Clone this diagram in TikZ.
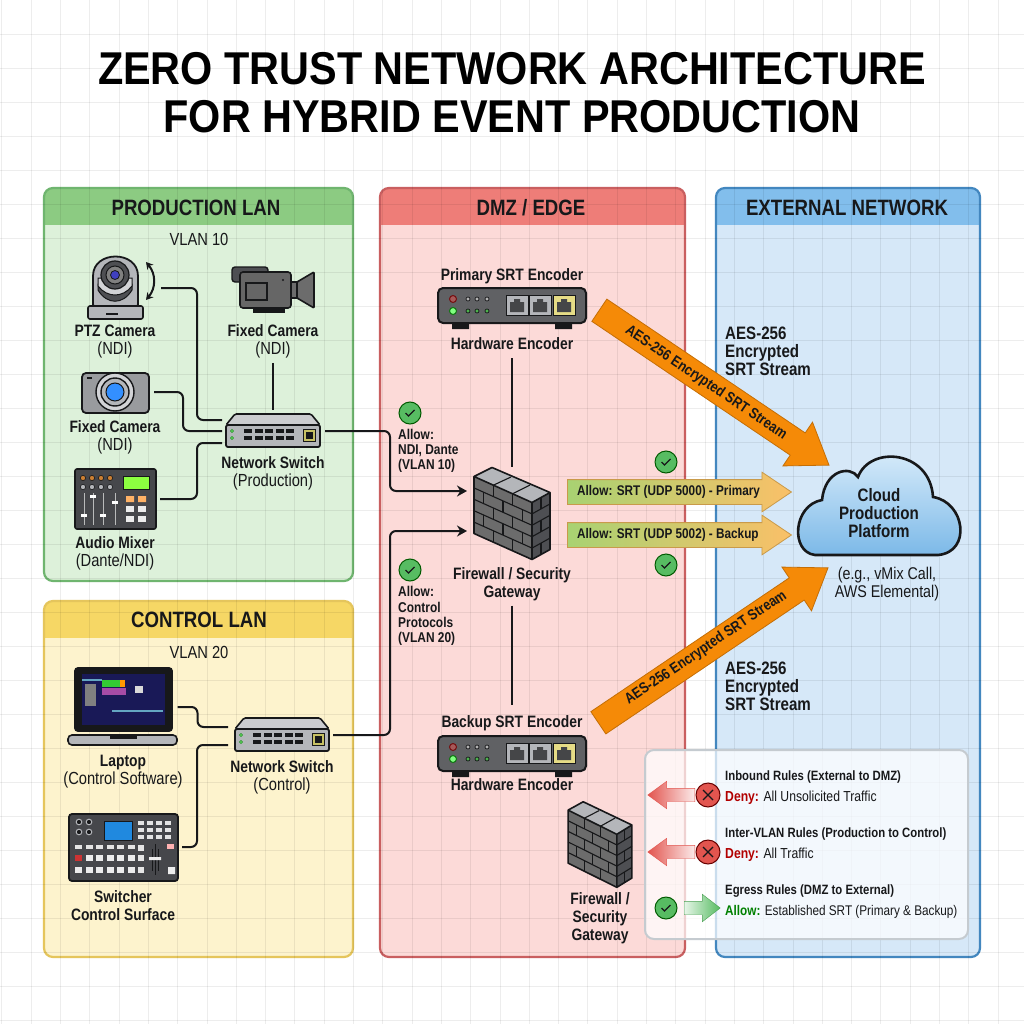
\documentclass[tikz,border=0pt]{standalone}
\usepackage{fontspec}
\setmainfont{Liberation Sans}[FakeStretch=0.84]
\newfontfamily\titlefont{Liberation Sans}[FakeStretch=0.9]
\usetikzlibrary{arrows.meta,shapes.arrows}
\definecolor{prodhead}{HTML}{8CCB82}
\definecolor{prodbody}{HTML}{DDF1DA}
\definecolor{prodedge}{HTML}{6FB56F}
\definecolor{ctrlhead}{HTML}{F6D765}
\definecolor{ctrlbody}{HTML}{FDF3CD}
\definecolor{ctrledge}{HTML}{E5C55C}
\definecolor{dmzhead}{HTML}{EE7D78}
\definecolor{dmzbody}{HTML}{FCDAD8}
\definecolor{dmzedge}{HTML}{C95F60}
\definecolor{exthead}{HTML}{82BEEC}
\definecolor{extbody}{HTML}{D6E8F8}
\definecolor{extedge}{HTML}{4387BF}
\definecolor{ink}{HTML}{17181A}
\definecolor{metal}{HTML}{B4B6BA}
\definecolor{metaldk}{HTML}{4E4F53}
\definecolor{orangearrow}{HTML}{F58A07}
\definecolor{denyred}{HTML}{E2554F}
\definecolor{okgreen}{HTML}{57BC62}
\definecolor{srtleft}{HTML}{A8D272}
\definecolor{srtright}{HTML}{FAC068}
\definecolor{srtedge}{HTML}{C99A4A}
\definecolor{cloudtop}{HTML}{DCEEFB}
\definecolor{cloudbot}{HTML}{7CB9E8}
\definecolor{legendedge}{HTML}{C5CBD0}
\definecolor{portyellow}{HTML}{E6DC86}
\newcommand\devsub[1]{{\fontsize{17.5}{18}\selectfont #1}}
\newcommand\ruletitle[1]{{\fontsize{13.5}{21}\selectfont\bfseries #1}}
\tikzset{
  wire/.style={line width=2pt,draw=ink,rounded corners=6pt},
  heading/.style={font=\fontsize{22.2}{24}\selectfont\bfseries,text=ink},
  devlabel/.style={align=center,font=\fontsize{16.5}{18}\selectfont,text=ink,inner sep=2pt},
  ruletext/.style={align=left,anchor=west,font=\fontsize{14.5}{21}\selectfont,text=ink,inner sep=0pt},
  devbox/.style={inner sep=0pt,outer sep=0pt},
  bigarrow/.style={single arrow,draw=orangearrow!80!black,fill=orangearrow,line width=.8pt,
    minimum height=277pt,minimum width=52pt,text height=26pt,text depth=0pt,single arrow head extend=13pt,
    single arrow tip angle=70,inner sep=0pt,anchor=tail},
  srtarrow/.style={single arrow,draw=srtedge,left color=srtleft,right color=srtright,line width=.8pt,
    minimum height=224pt,minimum width=39pt,text height=24pt,text depth=0pt,single arrow head extend=7.5pt,
    single arrow tip angle=68,inner sep=0pt,anchor=tail},
  denyarrow/.style={single arrow,shape border rotate=180,draw=denyred,left color=denyred,right color=denyred!12!white,
    minimum height=47pt,minimum width=27pt,text height=13pt,text depth=0pt,single arrow head extend=7pt,
    single arrow tip angle=72,inner sep=0pt,anchor=tail},
  passarrow/.style={single arrow,draw=okgreen!85!black,right color=okgreen,left color=okgreen!15!white,
    minimum height=36pt,minimum width=27pt,text height=13pt,text depth=0pt,single arrow head extend=7pt,
    single arrow tip angle=75,inner sep=0pt,anchor=tail},
  okmark/.pic={
    \draw[fill=okgreen,draw=green!35!black,line width=1pt] (0,0) circle (11);
    \draw[ink,line width=1.2pt] (-4.5,0) -- (-1.5,3) -- (4.5,-3);},
  nomark/.pic={
    \draw[fill=denyred,draw=red!40!black,line width=1pt] (0,0) circle (12);
    \draw[ink,line width=1.1pt] (-5,-5) -- (5,5) (-5,5) -- (5,-5);},
  netswitch/.pic={
    \draw[fill=metal!70!white,draw=ink,line width=1.6pt,rounded corners=1.5pt]
      (-38,-17) -- (38,-17) -- (47,-6) -- (-47,-6) -- cycle;
    \draw[fill=metal,draw=ink,line width=1.8pt,rounded corners=2pt] (-47,-6) rectangle (47,16);
    \foreach \c in {0,...,4} \foreach \r in {0,7}
      \fill[ink] (-29+\c*10.5,-2+\r) rectangle ++(8,4);
    \foreach \r in {0,7} \draw[green!50!black,fill=green!40!white,line width=.5pt] (-41,\r) circle (1.5);
    \draw[fill=olive!50!white,draw=ink,line width=.8pt] (30,-2) rectangle (42,10);
    \fill[ink] (32.5,1) rectangle (39.5,8);},
  encoder/.pic={
    \fill[ink] (-60,16) rectangle (-43,24) (43,16) rectangle (60,24);
    \draw[fill=metaldk!90!white,draw=ink,line width=2pt,rounded corners=5pt] (-74,-17) rectangle (74,18);
    \draw[fill=red!30!gray,draw=ink!60!red,line width=1pt] (-59,-6) circle (3.5);
    \draw[fill=green!50!white,draw=ink!60!green,line width=1pt] (-59,6) circle (3.5);
    \foreach \c in {-44,-35,-25} {
      \draw[fill=gray!60!white,draw=ink,line width=.7pt] (\c,-6) circle (2);
      \draw[fill=green!40!gray,draw=ink,line width=.7pt] (\c,6) circle (2);}
    \foreach \c/\t in {5/metal,28/metal,52/portyellow} {
      \draw[fill=\t,draw=ink,line width=1pt] (\c-11,-10) rectangle (\c+11,10);
      \fill[ink!80!white] (\c-7,7) -- (\c-7,-3) -- (\c-3,-3) -- (\c-3,-6) -- (\c+3,-6) -- (\c+3,-3)
        -- (\c+7,-3) -- (\c+7,7) -- cycle;}},
  firewall/.pic={
    % top, left face, right face
    \fill[metal] (-38,-37.5) -- (-20,-46.5) -- (38,-21.5) -- (20,-11.5) -- cycle;
    \fill[gray!85!black] (-38,-37.5) -- (20,-11.5) -- (20,45.5) -- (-38,19.5) -- cycle;
    \fill[metaldk] (20,-11.5) -- (38,-21.5) -- (38,35.5) -- (20,45.5) -- cycle;
    \foreach \r in {1,...,4} {
      \draw[ink,line width=1.1pt] (-38,-37.5+11.4*\r) -- (20,-11.5+11.4*\r) -- (38,-21.5+11.4*\r);}
    \foreach \r in {0,2,4} \foreach \t in {.33,.67}
      \draw[ink,line width=1.1pt] (-38+58*\t,-37.5+26*\t+11.4*\r) -- ++(0,11.4);
    \foreach \r in {1,3} \foreach \t in {.17,.5,.83}
      \draw[ink,line width=1.1pt] (-38+58*\t,-37.5+26*\t+11.4*\r) -- ++(0,11.4);
    \foreach \r in {0,2,4}
      \draw[ink,line width=1.1pt] (29,-16.5+11.4*\r) -- ++(0,11.4);
    \draw[ink,line width=1.1pt] (-18.7,-28.8) -- (-1,-37) (.6,-20.2) -- (18,-29);
    \draw[ink,line width=1.6pt,line join=round] (-38,-37.5) -- (-20,-46.5) -- (38,-21.5) -- (38,35.5)
      -- (20,45.5) -- (-38,19.5) -- cycle (-38,-37.5) -- (20,-11.5) -- (38,-21.5) (20,-11.5) -- (20,45.5);},
  ptzcam/.pic={
    \draw[fill=metal,draw=ink,line width=1.6pt,rounded corners=2pt] (-27,18) rectangle (28,31);
    \draw[fill=metal,draw=ink,line width=1.8pt,rounded corners=1pt] (-22,18) -- (-22,-11)
      .. controls (-22,-38) and (23,-38) .. (23,-11) -- (23,18) -- cycle;
    \draw[fill=metaldk,draw=ink,line width=1pt] (-17,2) .. controls (-8,17) and (8,17) .. (17,2) -- (17,-4) -- (-17,-4) -- cycle;
    \draw[fill=metal!60!white,draw=ink,line width=1pt] (-17,-10) -- (17,-10) -- (17,-2) .. controls (8,10) and (-8,10) .. (-17,-2) -- cycle;
    \draw[fill=metaldk,draw=ink,line width=1.2pt] (0,-13) circle (14);
    \draw[fill=gray,draw=ink,line width=1pt] (0,-13) circle (9);
    \draw[fill=blue!50!gray,draw=ink,line width=.8pt] (0,-13) circle (4.5);
    \fill[ink] (-9,25) rectangle (3,27);
    \draw[ink,line width=2pt,<->,>={Stealth[length=7pt,width=8pt]}] (31,-26) .. controls (41,-14) and (41,0) .. (31,12);},
  videocam/.pic={
    \fill[ink] (-20,16) rectangle (12,23);
    \draw[fill=metaldk,draw=ink,line width=1.4pt,rounded corners=3pt] (-41,-23) rectangle (-5,-8);
    \draw[fill=gray!85!black,draw=ink,line width=1.4pt] (18,-8) rectangle (24,8);
    \draw[fill=gray!85!black,draw=ink,line width=1.6pt,rounded corners=1pt] (24,-8) -- (41,-18) -- (41,18) -- (24,8) -- cycle;
    \draw[fill=gray!80!black,draw=ink,line width=1.6pt,rounded corners=3pt] (-33,-18) rectangle (18,18);
    \draw[ink,line width=1.1pt] (-27,-7) rectangle (-6,10);
    \fill[ink] (10,-10) circle (1.2);},
  stillcam/.pic={
    \draw[fill=metal!85!black,draw=ink,line width=1.8pt,rounded corners=4pt] (-33,-19) rectangle (34,21);
    \fill[ink] (-28,-15) rectangle (-23,-13);
    \draw[fill=metal!60!white,draw=ink,line width=1.4pt] (0,0) circle (19);
    \draw[fill=metal,draw=ink,line width=1.4pt] (0,0) circle (14);
    \draw[fill=blue!55!cyan!80!white,draw=ink,line width=1pt] (0,0) circle (9);},
  audiomix/.pic={
    \draw[fill=metaldk!90!black,draw=ink,line width=1.6pt,rounded corners=2pt] (-40,-30) rectangle (41,30);
    \foreach \c in {-32,-23,-14,-5} \foreach \r/\t in {-21/orange!60!gray,-12/metal}
      \draw[fill=\t,draw=ink,line width=.6pt] (\c,\r) circle (2.6);
    \draw[fill=green!60!yellow!75!white,draw=ink,line width=1pt] (8,-23) rectangle (34,-10);
    \foreach \c/\f in {-31/16,-22/-3,-12/16,0/3} {
      \draw[ink!30!white,line width=1pt] (\c,-6) -- (\c,26);
      \fill[white] (\c-3,\f-1.5) rectangle (\c+3,\f+1.5);}
    \foreach \r in {-3,7,17} \foreach \c in {11,23}
      \fill[white!85!gray] (\c,\r) rectangle ++(8,6);
    \fill[orange!60!white] (11,-3) rectangle ++(8,6) (23,-3) rectangle ++(8,6);},
  laptopicon/.pic={
    \draw[fill=metal,draw=ink,line width=1.6pt,rounded corners=4pt] (-55,28) rectangle (54,38);
    \fill[ink] (-13,28) rectangle (14,32);
    \draw[fill=ink,draw=ink,line width=1.8pt,rounded corners=3pt] (-48,-39) rectangle (49,24);
    \fill[black!70!blue!80!gray] (-41,-33) rectangle (42,18);
    \fill[cyan!50!gray] (-41,-28) rectangle (-21,-26);
    \fill[gray] (-38,-23) rectangle (-27,-1);
    \fill[green!60!gray] (-21,-27) rectangle (-3,-20);
    \fill[orange!80!yellow] (-3,-27) rectangle (2,-20);
    \fill[violet!70!white] (-21,-19) rectangle (3,-12);
    \fill[white!70!gray] (12,-21) rectangle (20,-14);
    \fill[cyan!50!gray] (-11,3) rectangle (40,5);},
  switcher/.pic={
    \draw[fill=metaldk!90!black,draw=ink,line width=1.8pt,rounded corners=3pt] (-54,-33) rectangle (55,34);
    \foreach \c in {-44,-34} \foreach \r in {-25,-15} \draw[fill=ink,draw=metal,line width=1pt] (\c,\r) circle (2.8);
    \draw[fill=blue!45!cyan!75!gray,draw=ink,line width=1pt] (-19,-26) rectangle (9,-7);
    \foreach \c in {0,...,3} \foreach \r in {-26,-19,-12}
      \fill[white!80!gray] (15+\c*9,\r) rectangle ++(6,3.5);
    \foreach \c in {0,...,5} {
      \fill[white!80!gray] (-48+\c*10.5,-2) rectangle ++(7,4);
      \fill[white!85!gray] (-48+\c*10.5,8) rectangle ++(7,6);
      \fill[white!85!gray] (-48+\c*10.5,20) rectangle ++(7,6);}
    \fill[red!60!gray] (-48,8) rectangle ++(7,6);
    \foreach \r in {-2,8,20} \fill[white!80!gray] (15,\r) rectangle ++(6,6);
    \draw[ink,line width=1pt] (32,-3) -- (32,28) (29,2) -- (29,24) (35,2) -- (35,24);
    \fill[white!85!gray] (26,10) rectangle (38,13) (45,20) rectangle (52,27);
    \fill[white!70!red] (44,-3) rectangle (51,2);}
}
% one zone with its coloured title bar
\newcommand\lanpanel[7]{
  \fill[#6,rounded corners=9] (#1,#2) rectangle (#3,#4);
  \begin{scope}
    \clip[rounded corners=9] (#1,#2) rectangle (#3,#4);
    \fill[#5] (#1,#2) rectangle (#3,#2+37);
  \end{scope}
  \draw[#7,line width=2.2pt,rounded corners=9] (#1,#2) rectangle (#3,#4);
}
\begin{document}
\begin{tikzpicture}[x=1pt,y=-1pt,>={Stealth[length=10pt,width=11pt]}]
  \useasboundingbox (0,0) rectangle (1024,1024);
  \fill[white] (0,0) rectangle (1024,1024);
  % Zones
  \lanpanel{44}{188}{353}{581}{prodhead}{prodbody}{prodedge}
  \lanpanel{44}{601}{353}{957}{ctrlhead}{ctrlbody}{ctrledge}
  \lanpanel{380}{188}{685}{957}{dmzhead}{dmzbody}{dmzedge}
  \lanpanel{716}{188}{980}{957}{exthead}{extbody}{extedge}
  % Paper grid
  \foreach \i in {0,...,34} \draw[black,opacity=.07,line width=.8pt] (1.8+\i*29.3,0) -- (1.8+\i*29.3,1024);
  \foreach \j in {1,...,30} \draw[black,opacity=.07,line width=.8pt] (0,\j*34) -- (1024,\j*34);
  % Title
  \node (titleA) at (512,69) {\titlefont\fontsize{46}{48}\selectfont\bfseries ZERO TRUST NETWORK ARCHITECTURE};
  \node (titleB) at (512,117) {\titlefont\fontsize{46}{48}\selectfont\bfseries FOR HYBRID EVENT PRODUCTION};
  % Zone titles
  \node[heading] (prodtitle) at (196,208) {PRODUCTION LAN};
  \node[heading] (ctrltitle) at (199,620) {CONTROL LAN};
  \node[heading] (dmztitle) at (531,208) {DMZ / EDGE};
  \node[heading] (exttitle) at (847,208) {EXTERNAL NETWORK};
  \node[devlabel] (vlanA) at (199,239) {\devsub{VLAN 10}};
  \node[devlabel] (vlanB) at (199,652) {\devsub{VLAN 20}};
  % Production devices
  \node[devbox,minimum width=92pt,minimum height=62pt] (ptz) at (115,288) {};
  \pic at (ptz) {ptzcam};
  \node[devlabel] (ptzlbl) at (115,342) {\textbf{PTZ Camera}\\\devsub{(NDI)}};
  \node[devbox,minimum width=84pt,minimum height=46pt] (fixcamA) at (273,290) {};
  \pic at (fixcamA) {videocam};
  \node[devlabel,outer sep=3pt] (fixcamAlbl) at (273,341) {\textbf{Fixed Camera}\\\devsub{(NDI)}};
  \node[devbox,minimum width=78pt,minimum height=40pt] (fixcamB) at (115,392) {};
  \pic at (fixcamB) {stillcam};
  \node[devlabel] (fixcamBlbl) at (115,437) {\textbf{Fixed Camera}\\\devsub{(NDI)}};
  \node[devbox,minimum width=90pt,minimum height=60pt] (mixer) at (115,499) {};
  \pic at (mixer) {audiomix};
  \node[devlabel] (mixerlbl) at (115,553) {\textbf{Audio Mixer}\\\devsub{(Dante/NDI)}};
  \node[devbox,minimum width=104pt,minimum height=42pt] (swprod) at (273,431) {};
  \pic at (swprod) {netswitch};
  \node[devlabel] (swprodlbl) at (273,473) {\textbf{Network Switch}\\\devsub{(Production)}};
  \coordinate (swprodA) at (222,420);
  \coordinate (swprodB) at (222,431);
  \coordinate (swprodC) at (222,443);
  % Control devices
  \node[devbox,minimum width=109pt,minimum height=78pt] (laptop) at (123,707) {};
  \pic at (laptop) {laptopicon};
  \node[devlabel] (laptoplbl) at (123,772) {\textbf{Laptop}\\\devsub{(Control Software)}};
  \node[devbox,minimum width=118pt,minimum height=68pt] (surface) at (123,847) {};
  \pic at (surface) {switcher};
  \node[devlabel] (surfacelbl) at (123,906) {\textbf{Switcher}\\\textbf{Control Surface}};
  \node[devbox,minimum width=102pt,minimum height=42pt] (swctrl) at (282,735) {};
  \pic at (swctrl) {netswitch};
  \node[devlabel] (swctrllbl) at (282,777) {\textbf{Network Switch}\\\devsub{(Control)}};
  \coordinate (swctrlA) at (228,727);
  \coordinate (swctrlB) at (228,745);
  % DMZ devices
  \node[devlabel] (encAtop) at (512,276) {\textbf{Primary SRT Encoder}};
  \node[devbox,minimum width=148pt,minimum height=40pt] (encA) at (512,305) {};
  \pic at (encA) {encoder};
  \node[devlabel,outer sep=6pt] (encAlbl) at (512,344) {\textbf{Hardware Encoder}};
  \node[devbox,minimum width=88pt,minimum height=94pt] (fwmain) at (512,514) {};
  \pic at (fwmain) {firewall};
  \node[devlabel,outer sep=3pt] (fwmainlbl) at (512,584) {\textbf{Firewall / Security}\\\textbf{Gateway}};
  \coordinate (fwmainA) at (467,491);
  \coordinate (fwmainB) at (467,531);
  \node[devlabel,outer sep=8pt] (encBtop) at (512,723) {\textbf{Backup SRT Encoder}};
  \node[devbox,minimum width=148pt,minimum height=40pt] (encB) at (512,753) {};
  \pic at (encB) {encoder};
  \node[devlabel] (encBlbl) at (512,785) {\textbf{Hardware Encoder}};
  \node[devbox,minimum width=64pt,minimum height=86pt] (fwsmall) at (600,845) {};
  \pic[xscale=.84,yscale=.93] at (fwsmall) {firewall};
  \node[devlabel] (fwsmalllbl) at (600,918) {\textbf{Firewall /}\\\textbf{Security}\\\textbf{Gateway}};
  % Wires
  \draw[wire] (ptz.east) -- ++(36,0) |- (swprodA);
  \draw[wire] (fixcamB.east) -- ++(29,0) |- (swprodB);
  \draw[wire] (mixer.east) -- ++(37,0) |- (swprodC);
  \draw[wire] (fixcamAlbl.south) -- (swprod.north);
  \draw[wire,->] (swprod.east) -- ++(65,0) |- (fwmainA);
  \draw[wire] (laptop.east) -- ++(20,0) |- (swctrlA);
  \draw[wire] (surface.east) -- ++(15,0) |- (swctrlB);
  \draw[wire,->] (swctrl.east) -- ++(57,0) |- (fwmainB);
  \draw[wire] (encAlbl.south) -- (fwmain.north);
  \draw[wire] (fwmainlbl.south) -- (encBtop.north);
  % Allow notes in the DMZ
  \pic at (410,413) {okmark};
  \pic at (410,570) {okmark};
  \pic at (666,462) {okmark};
  \pic at (666,565) {okmark};
  \node[ruletext,font=\fontsize{14.2}{15.3}\selectfont\bfseries] (allowA) at (398,451) {Allow:\\NDI, Dante\\(VLAN 10)};
  \node[ruletext,font=\fontsize{14.2}{15.3}\selectfont\bfseries] (allowB) at (398,616) {Allow:\\Control\\Protocols\\(VLAN 20)};
  % Stream arrows
  \node[srtarrow] (srtA) at (567,492) {};
  \node[srtarrow] (srtB) at (567,535) {};
  \node[font=\fontsize{14}{16}\selectfont\bfseries,text=ink,anchor=west,inner sep=0pt] (srtAtxt) at (577,492) {Allow: SRT (UDP 5000) - Primary};
  \node[font=\fontsize{14}{16}\selectfont\bfseries,text=ink,anchor=west,inner sep=0pt] (srtBtxt) at (577,535) {Allow: SRT (UDP 5002) - Backup};
  \node[bigarrow,rotate=-34] (aesA) at (599,310) {};
  \node[bigarrow,rotate=34] (aesB) at (598,723) {};
  \node[rotate=-34,font=\fontsize{15}{16}\selectfont\bfseries,text=ink] (aesAtxt) at (706,383) {AES-256 Encrypted SRT Stream};
  \node[rotate=34,font=\fontsize{15}{16}\selectfont\bfseries,text=ink] (aesBtxt) at (706,648) {AES-256 Encrypted SRT Stream};
  \node[align=left,anchor=west,inner sep=0pt,font=\fontsize{18}{18}\selectfont\bfseries,text=ink] (aesAnote) at (725,351) {AES-256\\Encrypted\\SRT Stream};
  \node[align=left,anchor=west,inner sep=0pt,font=\fontsize{18}{18}\selectfont\bfseries,text=ink] (aesBnote) at (725,686) {AES-256\\Encrypted\\SRT Stream};
  % Cloud
  \draw[top color=cloudtop,bottom color=cloudbot,draw=ink,line width=2.6pt]
    (815,555) .. controls (790,552) and (793,505) .. (822,500) .. controls (825,470) and (850,465) .. (858,477)
    .. controls (870,445) and (930,450) .. (933,497) .. controls (965,502) and (972,552) .. (938,555) -- cycle;
  \node[devlabel,font=\fontsize{18}{18}\selectfont\bfseries] (cloud) at (879,513) {Cloud\\Production\\Platform};
  \node[devlabel,font=\fontsize{17}{18}\selectfont] (cloudlbl) at (887,584) {(e.g., vMix Call,\\AWS Elemental)};
  % Rule legend
  \draw[fill=white,fill opacity=.72,draw=legendedge,line width=2pt,rounded corners=9] (645,750) rectangle (968,939);
  \node[denyarrow] (denyA) at (695,795) {};
  \node[denyarrow] (denyB) at (695,852) {};
  \node[passarrow] (allowC) at (684,908) {};
  \pic at (708,795) {nomark};
  \pic at (708,852) {nomark};
  \pic at (666,908) {okmark};
  \node[ruletext] (ruleA) at (725,788) {\ruletitle{Inbound Rules (External to DMZ)}\\\textcolor{red!70!black}{\textbf{Deny:}} All Unsolicited Traffic};
  \node[ruletext] (ruleB) at (725,845) {\ruletitle{Inter-VLAN Rules (Production to Control)}\\\textcolor{red!70!black}{\textbf{Deny:}} All Traffic};
  \node[ruletext,font=\fontsize{14}{21}\selectfont] (ruleC) at (725,902) {\ruletitle{Egress Rules (DMZ to External)}\\\textcolor{green!50!black}{\textbf{Allow:}} Established SRT (Primary \& Backup)};
\end{tikzpicture}
\end{document}
